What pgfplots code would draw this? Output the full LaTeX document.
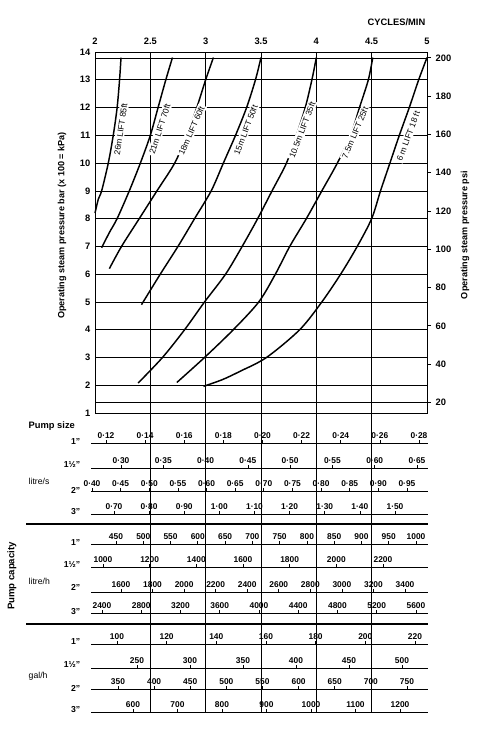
\documentclass[border=0pt]{standalone}
\usepackage{fontspec}
\setmainfont{Liberation Sans}
\usepackage{pgfplots}
\pgfplotsset{compat=1.18}
\pgfplotsset{
  /pgf/number format/assume math mode=true,
  /pgf/number format/1000 sep={},
  row/.style={
    anchor=south west, scale only axis, width=252.75pt, height=6pt,
    ymin=0, ymax=1, axis y line=none, axis x line*=bottom,
    ytick=\empty, scaled x ticks=false,
    tick align=inside, major tick length=2.6pt,
    every tick/.style={black, line width=0.5pt},
    x axis line style={line width=0.6pt},
    xticklabel style={anchor=south, yshift=2.3pt, inner sep=1pt,
      font=\bfseries\fontsize{6.3}{7}\selectfont},
  },
  dec/.style={xticklabel style={/pgf/number format/.cd, fixed, fixed zerofill,
      precision=2, set decimal separator={·}}},
  lift/.style={black, line width=1.1pt, smooth, no markers},
}
\tikzset{lbl/.style={font=\fontsize{6.3}{7}\selectfont, fill=white, inner sep=1.1pt}}
\begin{document}
\begin{tikzpicture}
\useasboundingbox (0pt,0pt) rectangle (364.5pt,555pt);

% main chart, bar scale
\begin{axis}[
    at={(71.25pt,245.25pt)}, anchor=south west, scale only axis,
    width=249pt, height=270.75pt,
    xmin=2, xmax=5, ymin=1, ymax=14,
    xtick={2,2.5,...,5}, ytick={1,...,14},
    xticklabel pos=upper, yticklabel pos=lower,
    major tick length=0pt,
    grid=major, major grid style={black, line width=0.45pt},
    axis line style={line width=0.7pt},
    ticklabel style={font=\bfseries\fontsize{7}{8}\selectfont},
    xticklabel style={yshift=2pt},
    ylabel={Operating steam pressure bar (x 100 = kPa)},
    ylabel style={at={(axis description cs:-0.0994,0.519)}, anchor=center,
      font=\bfseries\fontsize{6.8}{8}\selectfont},
    clip=false,
]
% grid lines carried down through the capacity scales
\pgfplotsinvokeforeach{2.5,3,3.5,4,4.5}{
  \addplot[black, line width=0.45pt] coordinates {(#1,1) (#1,-9.8)};
}
\addplot[black, line width=1.2pt] coordinates {(1.377,-3.0) (5.009,-3.0)};
\addplot[black, line width=1.2pt] coordinates {(1.377,-6.6) (5.009,-6.6)};
% 200 psi and 20 psi lines
\addplot[black, line width=0.45pt] coordinates {(2,13.79) (5,13.79)};
\addplot[black, line width=1pt] coordinates {(2,1.38) (5,1.38)};

% 26m lift 85ft
\addplot[lift] coordinates {
  (2.0,8.2) (2.03,8.7) (2.06,9) (2.12,10) (2.165,11) (2.2,12) (2.222,13) (2.235,13.8)
};
% 21m lift 70ft
\addplot[lift] coordinates {
  (2.06,6.95) (2.13,7.5) (2.2,8) (2.31,9) (2.41,10) (2.5,11) (2.57,12) (2.64,13) (2.70,13.8)
};
% 18m lift 60ft
\addplot[lift] coordinates {
  (2.13,6.2) (2.24,7) (2.40,8) (2.56,9) (2.72,10) (2.83,11) (2.92,12) (3.0,13) (3.07,13.8)
};
% 15m lift 50ft
\addplot[lift] coordinates {
  (2.42,4.9) (2.59,6) (2.75,7) (2.90,8) (3.05,9) (3.16,10) (3.27,11) (3.37,12) (3.45,13) (3.5,13.8)
};
% 10.5m lift 35ft
\addplot[lift] coordinates {
  (2.39,2.08) (2.61,3) (2.81,4) (2.99,5) (3.18,6) (3.33,7) (3.47,8) (3.60,9) (3.73,10)
  (3.82,11) (3.90,12) (3.96,13) (4.0,13.8)
};
% 7.5m lift 25ft
\addplot[lift] coordinates {
  (2.74,2.1) (2.99,3) (3.25,4) (3.48,5) (3.63,6) (3.76,7) (3.91,8) (4.05,9) (4.19,10)
  (4.31,11) (4.39,12) (4.47,13) (4.51,13.8)
};
% 6m lift 18ft
\addplot[lift] coordinates {
  (2.98,1.96) (3.15,2.2) (3.31,2.5) (3.55,3) (3.85,4) (4.05,5) (4.22,6) (4.37,7) (4.50,8)
  (4.58,9) (4.665,10) (4.75,11) (4.84,12) (4.925,13) (5.0,13.8)
};

% labels set into the curves
\node[lbl, rotate=81.5] at (axis cs:2.232,11.22) {26m LIFT 85ft};
\node[lbl, rotate=72]   at (axis cs:2.585,11.22) {21m LIFT 70ft};
\node[lbl, rotate=66]   at (axis cs:2.872,11.17) {18m LIFT 60ft};
\node[lbl, rotate=69]   at (axis cs:3.362,11.19) {15m LIFT 50ft};
\node[lbl, rotate=69]   at (axis cs:3.872,11.19) {10.5m LIFT 35ft};
\node[lbl, rotate=67]   at (axis cs:4.350,11.09) {7.5m LIFT 25ft};
\node[lbl, rotate=69.5] at (axis cs:4.830,10.97) {6 m LIFT 18 ft};
\end{axis}

% psi scale on the right
\begin{axis}[
    at={(71.25pt,245.25pt)}, anchor=south west, scale only axis,
    width=249pt, height=270.75pt,
    xmin=2, xmax=5, ymin=14.5038, ymax=203.053,
    axis x line=none, axis y line*=right,
    ytick={20,40,...,200}, tick align=outside, major tick length=3pt,
    every tick/.style={black, line width=0.6pt},
    axis line style={line width=0.7pt},
    ticklabel style={font=\bfseries\fontsize{7}{8}\selectfont},
    ylabel={Operating steam pressure psi},
    ylabel style={at={(axis description cs:1.1145,0.493)}, anchor=center,
      font=\bfseries\fontsize{6.8}{8}\selectfont},
]
\end{axis}

% pump capacity scales, litre/s
\begin{axis}[row, dec, at={(68.25pt,222.75pt)}, xmin=0.11233, xmax=0.28460,
  xtick={0.12,0.14,...,0.281}]\end{axis}
\begin{axis}[row, dec, at={(68.25pt,204pt)}, xmin=0.26453, xmax=0.66302,
  xtick={0.30,0.35,...,0.651}]\end{axis}
\begin{axis}[row, dec, at={(68.25pt,186.75pt)}, xmin=0.39825, xmax=0.98669,
  xtick={0.40,0.45,...,0.951}]\end{axis}
\begin{axis}[row, dec, at={(68.25pt,169.5pt)}, xmin=0.63452, xmax=1.59395,
  xtick={0.70,0.80,...,1.501}]\end{axis}
% litre/h
\begin{axis}[row, at={(68.25pt,147pt)}, xmin=404.17, xmax=1021.95,
  xtick={450,500,...,1000}]\end{axis}
\begin{axis}[row, at={(68.25pt,129.75pt)}, xmin=948.57, xmax=2392.86,
  xtick={1000,1200,...,2200}]\end{axis}
\begin{axis}[row, at={(68.25pt,111pt)}, xmin=1409.86, xmax=3545.75,
  xtick={1600,1800,...,3400}]\end{axis}
\begin{axis}[row, at={(68.25pt,95.25pt)}, xmin=2287.9, xmax=5722.3,
  xtick={2400,2800,...,5600}]\end{axis}
% gal/h
\begin{axis}[row, at={(68.25pt,72pt)}, xmin=89.53, xmax=225.24,
  xtick={100,120,...,220}]\end{axis}
\begin{axis}[row, at={(68.25pt,54pt)}, xmin=206.60, xmax=524.53,
  xtick={250,300,...,500}]\end{axis}
\begin{axis}[row, at={(68.25pt,38.25pt)}, xmin=312.63, xmax=779.07,
  xtick={350,400,...,750}]\end{axis}
\begin{axis}[row, at={(68.25pt,21pt)}, xmin=505.62, xmax=1262.92,
  xtick={600,700,...,1200}]\end{axis}

% texts
\node[anchor=east, font=\bfseries\fontsize{7}{8}\selectfont] at (322.5pt,538.5pt) {CYCLES/MIN};
\node[anchor=west, font=\bfseries\fontsize{7}{8}\selectfont] at (18pt,235.5pt) {Pump size};
\node[rotate=90, font=\bfseries\fontsize{7.2}{8}\selectfont] at (9pt,123pt) {Pump capacity};
\begin{scope}[every node/.style={anchor=west, font=\fontsize{6.5}{7}\selectfont}]
  \node at (18pt,194.25pt) {litre/s};
  \node at (18pt,119.25pt) {litre/h};
  \node at (18pt,48pt) {gal/h};
\end{scope}
\begin{scope}[every node/.style={anchor=east, font=\bfseries\fontsize{6.5}{7}\selectfont}]
  \node at (63.75pt,223.5pt) {1''};
  \node at (63.75pt,206.25pt) {1½''};
  \node at (63.75pt,187.5pt) {2''};
  \node at (63.75pt,171pt) {3''};
  \node at (63.75pt,147.75pt) {1''};
  \node at (63.75pt,131.25pt) {1½''};
  \node at (63.75pt,114.75pt) {2''};
  \node at (63.75pt,96pt) {3''};
  \node at (63.75pt,73.5pt) {1''};
  \node at (63.75pt,56.25pt) {1½''};
  \node at (63.75pt,39pt) {2''};
  \node at (63.75pt,22.5pt) {3''};
\end{scope}
\end{tikzpicture}
\end{document}
